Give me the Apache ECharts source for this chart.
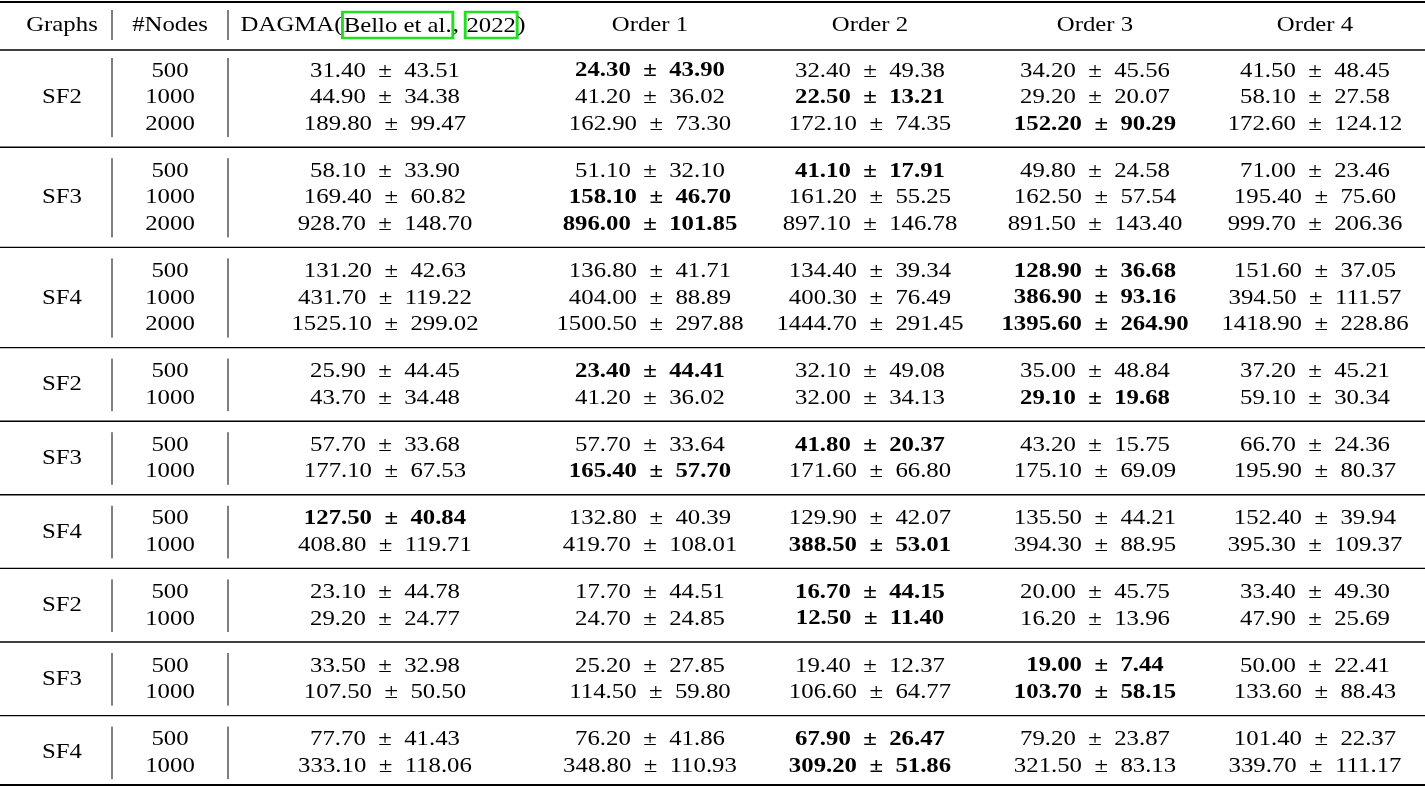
<!DOCTYPE html>
<html><head><meta charset="utf-8">
<script src="https://cdn.jsdelivr.net/npm/echarts@6/dist/echarts.min.js"></script>
<style>html,body{margin:0;background:#fff}#c{width:1425px;height:787px}</style>
</head><body><div id="c"></div>
<script>
const headers = ["Graphs","#Nodes","DAGMA(Bello et al., 2022)","Order 1","Order 2","Order 3","Order 4"];
const groupGraphs = ["SF2","SF3","SF4","SF2","SF3","SF4","SF2","SF3","SF4"];
const groupNodes = [[500,1000,2000],[500,1000,2000],[500,1000,2000],[500,1000],[500,1000],[500,1000],[500,1000],[500,1000],[500,1000]];
const dagmaMean = [31.40,44.90,189.80,58.10,169.40,928.70,131.20,431.70,1525.10,25.90,43.70,57.70,177.10,127.50,408.80,23.10,29.20,33.50,107.50,77.70,333.10];
const dagmaStd  = [43.51,34.38,99.47,33.90,60.82,148.70,42.63,119.22,299.02,44.45,34.48,33.68,67.53,40.84,119.71,44.78,24.77,32.98,50.50,41.43,118.06];
const o1Mean = [24.30,41.20,162.90,51.10,158.10,896.00,136.80,404.00,1500.50,23.40,41.20,57.70,165.40,132.80,419.70,17.70,24.70,25.20,114.50,76.20,348.80];
const o1Std  = [43.90,36.02,73.30,32.10,46.70,101.85,41.71,88.89,297.88,44.41,36.02,33.64,57.70,40.39,108.01,44.51,24.85,27.85,59.80,41.86,110.93];
const o2Mean = [32.40,22.50,172.10,41.10,161.20,897.10,134.40,400.30,1444.70,32.10,32.00,41.80,171.60,129.90,388.50,16.70,12.50,19.40,106.60,67.90,309.20];
const o2Std  = [49.38,13.21,74.35,17.91,55.25,146.78,39.34,76.49,291.45,49.08,34.13,20.37,66.80,42.07,53.01,44.15,11.40,12.37,64.77,26.47,51.86];
const o3Mean = [34.20,29.20,152.20,49.80,162.50,891.50,128.90,386.90,1395.60,35.00,29.10,43.20,175.10,135.50,394.30,20.00,16.20,19.00,103.70,79.20,321.50];
const o3Std  = [45.56,20.07,90.29,24.58,57.54,143.40,36.68,93.16,264.90,48.84,19.68,15.75,69.09,44.21,88.95,45.75,13.96,7.44,58.15,23.87,83.13];
const o4Mean = [41.50,58.10,172.60,71.00,195.40,999.70,151.60,394.50,1418.90,37.20,59.10,66.70,195.90,152.40,395.30,33.40,47.90,50.00,133.60,101.40,339.70];
const o4Std  = [48.45,27.58,124.12,23.46,75.60,206.36,37.05,111.57,228.86,45.21,30.34,24.36,80.37,39.94,109.37,49.30,25.69,22.41,88.43,22.37,111.17];
// index of bold column per row (0=DAGMA .. 4=Order 4)
const boldCol = [1,2,3,2,1,1,3,3,3,1,3,2,1,0,2,2,2,3,3,2,2];

const means=[dagmaMean,o1Mean,o2Mean,o3Mean,o4Mean], stds=[dagmaStd,o1Std,o2Std,o3Std,o4Std];
const colX=[62,170,385,650,870,1095,1315];
const headY=25, firstY=71, rowStep=26.6, groupGap=47;
const cells=[], lines=[];
const FS=21, SX=1.18;
headers.forEach((h,i)=>cells.push({x:i==2?383:colX[i],y:headY,t:h,b:false,hdr:i==2}));
lines.push({x1:0,y1:2,x2:1425,y2:2,w:2.2});
lines.push({x1:0,y1:50,x2:1425,y2:50,w:1.4});
lines.push({x1:112,y1:10,x2:112,y2:40,w:1});
lines.push({x1:228,y1:10,x2:228,y2:40,w:1});
let y=firstY, r=0;
groupGraphs.forEach((g,gi)=>{
  const ns=groupNodes[gi]; const y0=y;
  ns.forEach((n,k)=>{
    const yy=y0+k*rowStep;
    cells.push({x:colX[1],y:yy,t:String(n),b:false});
    for(let c=0;c<5;c++) cells.push({x:colX[2+c],y:yy,t:means[c][r].toFixed(2)+'\u2002±\u2002'+stds[c][r].toFixed(2),b:boldCol[r]===c});
    r++;
  });
  const yl=y0+(ns.length-1)*rowStep;
  cells.push({x:colX[0],y:(y0+yl)/2,t:g,b:false});
  lines.push({x1:112,y1:y0-13,x2:112,y2:yl+13,w:1});
  lines.push({x1:228,y1:y0-13,x2:228,y2:yl+13,w:1});
  const last=gi===groupGraphs.length-1;
  lines.push({x1:0,y1:last?785:yl+23,x2:1425,y2:last?785:yl+23,w:last?2.2:1.4});
  y=yl+groupGap;
});

const chart=echarts.init(document.getElementById('c'));
chart.setOption({
  animation:false,
  grid:{left:0,right:0,top:0,bottom:0},
  xAxis:{type:'value',min:0,max:1425,show:false},
  yAxis:{type:'value',min:0,max:787,inverse:true,show:false},
  series:[
    {type:'custom',coordinateSystem:'cartesian2d',data:lines.map(l=>[l.x1,l.y1,l.x2,l.y2]),
     renderItem:(p,api)=>{const l=lines[p.dataIndex];const a=api.coord([l.x1,l.y1]),b=api.coord([l.x2,l.y2]);
       return {type:'line',shape:{x1:a[0],y1:a[1],x2:b[0],y2:b[1]},style:{stroke:'#000',lineWidth:l.w}};}},
    {type:'custom',coordinateSystem:'cartesian2d',data:cells.map(c=>[c.x,c.y]),
     renderItem:(p,api)=>{const c=cells[p.dataIndex];const a=api.coord([c.x,c.y]);
       const base={fontFamily:'Liberation Serif',fontSize:FS,fill:'#000',align:'center',verticalAlign:'middle'};
       if(c.hdr){
         return {type:'text',x:a[0],y:a[1],scaleX:SX,style:Object.assign({},base,{
           text:'DAGMA({box|Bello et al.}, {box|2022})',
           rich:{box:{fontFamily:'Liberation Serif',fontSize:FS,borderColor:'#22dd22',borderWidth:2.5,padding:[4,1,1,1]}}})};
       }
       return {type:'text',x:a[0],y:a[1],scaleX:SX,style:Object.assign(base,{text:c.t,fontWeight:c.b?'bold':'normal'})};}}
  ]
});
</script></body></html>
